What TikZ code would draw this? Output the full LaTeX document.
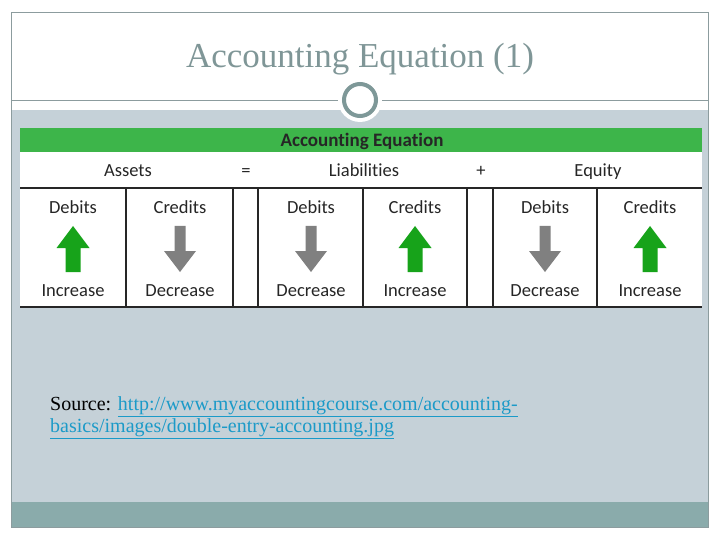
\documentclass[tikz,border=0pt]{standalone}
\usepackage{fontspec}
\setmainfont{Liberation Serif}
\newfontfamily\calfont[Ligatures=NoCommon]{Carlito}
\definecolor{titlegray}{HTML}{7F9697}
\definecolor{framegray}{HTML}{8C9C9E}
\definecolor{panel}{HTML}{C5D1D8}
\definecolor{band}{HTML}{8AABAB}
\definecolor{hdrgreen}{HTML}{3DB54A}
\definecolor{upgreen}{HTML}{17A31A}
\definecolor{downgray}{HTML}{808080}
\definecolor{ringcol}{HTML}{7E9898}
\definecolor{linkblue}{HTML}{1B9AC8}
\definecolor{rulecol}{HTML}{262626}
\begin{document}
\begin{tikzpicture}[x=1pt,y=-1pt,
  titletext/.style={font=\fontsize{35}{40}\selectfont, text=titlegray, inner sep=0},
  hdrtext/.style={font=\calfont\bfseries\fontsize{19}{22}\selectfont, text=rulecol, inner sep=0, anchor=base},
  celltext/.style={font=\calfont\fontsize{18.5}{22}\selectfont, text=rulecol, inner sep=0, anchor=base},
  srctext/.style={font=\fontsize{20}{24}\selectfont, inner sep=0, anchor=base west},
  tabrule/.style={draw=rulecol, line width=1.5pt},
  uparrow/.pic={\fill[upgreen] (-7.5,46) -- (-7.5,22) -- (-16.5,22) -- (0,0) -- (16.5,22) -- (7.5,22) -- (7.5,46) -- cycle;},
  downarrow/.pic={\fill[downgray] (-5.5,0) -- (-5.5,25) -- (-16,25) -- (0,46) -- (16,25) -- (5.5,25) -- (5.5,0) -- cycle;}
]
\useasboundingbox (0,0) rectangle (720,540);
\fill[white] (0,0) rectangle (720,540);
% slide panels
\fill[panel] (12,110) rectangle (708,502);
\fill[band] (12,502) rectangle (708,527);
\draw[framegray, line width=0.8pt] (11.5,12.5) rectangle (708,527);
% title
\node[titletext, anchor=base] (title) at (360,68) {Accounting Equation (1)};
% divider with ring
\coordinate (ringc) at (360,100);
\draw[framegray, line width=0.8pt] (11.5,100) -- (338,100);
\draw[framegray, line width=0.8pt] (382,100) -- (708,100);
\fill[white] (ringc) circle (22);
\draw[ringcol, line width=4pt] (ringc) circle (16);
% table
\fill[white] (20,128) rectangle (702,307);
\fill[hdrgreen] (20,128) rectangle (702,152);
\node[hdrtext] (hdr) at (362,146.5) {Accounting Equation};
\node[celltext] (assets) at (128,176.5) {Assets};
\node[celltext] (eq) at (246,176.5) {=};
\node[celltext] (liab) at (364,176.5) {Liabilities};
\node[celltext] (plus) at (481,176.5) {+};
\node[celltext] (equity) at (598,176.5) {Equity};
\draw[tabrule] (20,188) -- (702,188);
\draw[tabrule] (20,307) -- (702,307);
\foreach \vx in {126,233,258,363,467,493,597}{
  \draw[tabrule] (\vx,188) -- (\vx,307);
}
% columns
\foreach \cx/\top/\bot/\arr [count=\i] in {73/Debits/Increase/uparrow, 180/Credits/Decrease/downarrow, 311/Debits/Decrease/downarrow, 415/Credits/Increase/uparrow, 545/Debits/Decrease/downarrow, 650/Credits/Increase/uparrow}{
  \node[celltext] (top\i) at (\cx,213.5) {\top};
  \node[celltext] (bot\i) at (\cx,296.5) {\bot};
  \pic at (\cx,226) {\arr};
}
% source
\node[srctext] (src1) at (50,410) {Source: \textcolor{linkblue}{\underline{http://www.myaccountingcourse.com/accounting-}}};
\node[srctext] (src2) at (50,432) {\textcolor{linkblue}{\underline{basics/images/double-entry-accounting.jpg}}};
\end{tikzpicture}
\end{document}
